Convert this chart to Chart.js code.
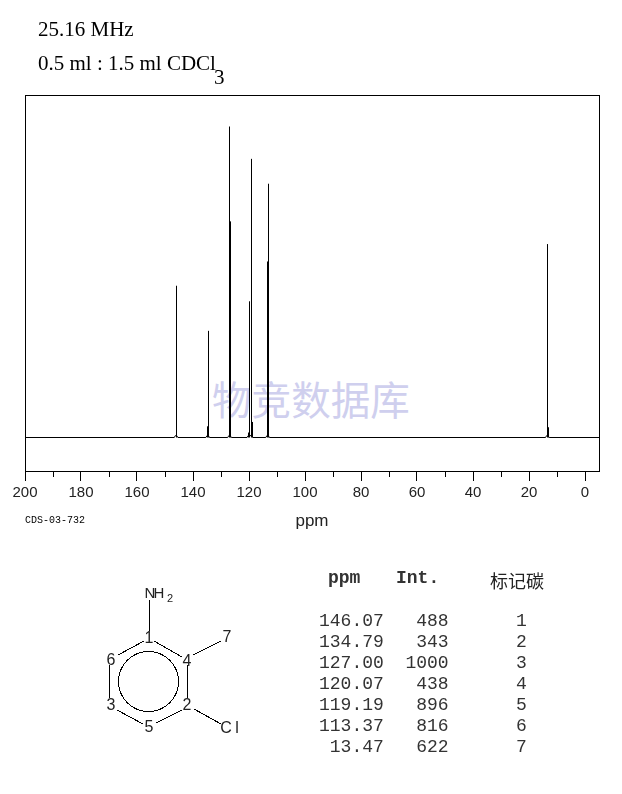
<!DOCTYPE html>
<html>
<head>
<meta charset="utf-8">
<title>13C NMR</title>
<script src="https://cdn.jsdelivr.net/npm/chart.js@4"></script>
<style>
  html, body { margin: 0; padding: 0; background: #fff; }
  #page { position: relative; width: 622px; height: 794px; overflow: hidden; }
  #page div { position: absolute; white-space: pre; line-height: 1; color: #000; }
  canvas { position: absolute; left: 0; top: 0; }
  .head { font: 21px "Liberation Serif", serif; color: #111; }
  .mono { font: 18px "Liberation Mono", monospace; }
  #page .mono { color: #333; }
  #page #mark { left: 212px; top: 378px; font-family: "Noto Sans CJK SC", sans-serif; font-size: 39.6px; color: #cfcfee; }
  svg { position: absolute; left: 0; top: 0; }
  svg text { font: 16px "Liberation Sans", sans-serif; fill: #222; text-anchor: middle; }
</style>
</head>
<body>
<div id="page">
  <div id="mark">物竞数据库</div>
  <canvas id="nmrChart" width="622" height="794"></canvas>
  <div class="head" style="left:38px;top:19px">25.16 MHz</div>
  <div class="head" style="left:38px;top:53px">0.5 ml : 1.5 ml CDCl</div>
  <div class="head" style="left:214px;top:67px">3</div>
  <div style="left:25px;top:515px;font:10px 'Liberation Mono',monospace">CDS-03-732</div>
  <div class="mono" style="left:328px;top:569px;font-weight:bold">ppm</div>
  <div class="mono" style="left:396px;top:569px;font-weight:bold">Int.</div>
  <div style="left:490px;top:567px;font:18px 'Noto Sans CJK SC',sans-serif;color:#222">标记碳</div>
  <svg width="622" height="794">
    <g stroke="#000" fill="none" shape-rendering="crispEdges">
      <line x1="149" y1="600" x2="149" y2="631"/>
      <line x1="144" y1="641" x2="118" y2="655"/>
      <line x1="154" y1="641" x2="182" y2="657"/>
      <line x1="109" y1="665" x2="109" y2="698"/>
      <line x1="187" y1="665" x2="187" y2="698"/>
      <line x1="117" y1="710" x2="143" y2="724"/>
      <line x1="182" y1="710" x2="156" y2="723"/>
      <line x1="193" y1="655" x2="221" y2="641"/>
      <line x1="194" y1="709" x2="221" y2="724"/>
      <circle cx="148.5" cy="681.5" r="30"/>
    </g>
    <text x="150" y="598" style="font-size:15px">N</text>
    <text x="159" y="598" style="font-size:15px">H</text>
    <text x="170" y="602" style="font-size:11px">2</text>
    <text x="149" y="643">1</text>
    <text x="111" y="665">6</text>
    <text x="187" y="666">4</text>
    <text x="111" y="710">3</text>
    <text x="187" y="710">2</text>
    <text x="149" y="732">5</text>
    <text x="227" y="642">7</text>
    <text x="226" y="733">C</text>
    <text x="237" y="733">l</text>
  </svg>
</div>
<script>
// peak table
const ppm = [146.07, 134.79, 127.00, 120.07, 119.19, 113.37, 13.47];
const intensity = [488, 343, 1000, 438, 896, 816, 622];
const carbon = [1, 2, 3, 4, 5, 6, 7];

// thicker lower part next to some peaks
const shoulderPpm = [135.1, 126.75, 120.4, 118.9, 113.7, 13.2];
const shoulderInt = [36, 695, 16, 50, 566, 33];

// baseline with the small foot under each peak
const basePpm = [200, 146.7, 146.3, 145.8, 145.4, 135.4, 135.0, 134.5, 134.1, 127.6, 127.2, 126.7, 126.3,
  120.7, 120.3, 119.0, 118.6, 114.0, 113.6, 113.1, 112.7, 14.1, 13.7, 13.2, 12.8, -5];
const baseInt = [0, 0, 6, 6, 0, 0, 6, 6, 0, 0, 6, 6, 0, 0, 6, 6, 0, 0, 6, 6, 0, 0, 6, 6, 0, 0];

const minorTicks = [190, 170, 150, 130, 110, 90, 70, 50, 30, 10];

// table rows
const page = document.getElementById("page");
function addCell(text, left, top) {
  const el = document.createElement("div");
  el.className = "mono";
  el.style.left = left + "px";
  el.style.top = top + "px";
  el.textContent = text;
  page.appendChild(el);
}
ppm.forEach((p, i) => {
  const top = 611.5 + i * 21;
  addCell(p.toFixed(2).padStart(6) + "  " + String(intensity[i]).padStart(4), 319, top);
  addCell(String(carbon[i]), 516, top);
});

function stick(x, y) {
  return {
    data: [{ x: x, y: 0 }, { x: x, y: y }],
    borderColor: "#000",
    borderWidth: 1,
    pointRadius: 0,
    stick: true
  };
}

const datasets = [{
  data: basePpm.map((p, i) => ({ x: p, y: baseInt[i] })),
  borderColor: "#000",
  borderWidth: 1,
  pointRadius: 0
}];
ppm.forEach((p, i) => datasets.push(stick(p, intensity[i])));
shoulderPpm.forEach((p, i) => datasets.push(stick(p, shoulderInt[i])));

// keep the sticks on whole pixels, the original is not antialiased
const snapSticks = {
  id: "snapSticks",
  afterDatasetsUpdate(chart) {
    chart.data.datasets.forEach((d, i) => {
      if (!d.stick) return;
      chart.getDatasetMeta(i).data.forEach(pt => { pt.x = Math.round(pt.x) + 0.5; });
    });
  }
};

// frame and the short ticks
const frame = {
  id: "frame",
  afterDraw(chart) {
    const { ctx, chartArea: a, scales } = chart;
    ctx.save();
    ctx.strokeStyle = "#000";
    ctx.lineWidth = 1;
    ctx.strokeRect(a.left + 0.5, a.top + 0.5, a.right - a.left, a.bottom - a.top);
    ctx.beginPath();
    minorTicks.forEach(t => {
      const x = Math.round(scales.x.getPixelForValue(t)) + 0.5;
      ctx.moveTo(x, a.bottom);
      ctx.lineTo(x, a.bottom + 6);
    });
    ctx.stroke();
    ctx.restore();
  }
};

new Chart(document.getElementById("nmrChart").getContext("2d"), {
  type: "line",
  data: { datasets: datasets },
  plugins: [snapSticks, frame],
  options: {
    responsive: false,
    animation: false,
    events: [],
    layout: { padding: { left: 25, right: 23, top: 95, bottom: 262 } },
    plugins: { legend: { display: false }, tooltip: { enabled: false } },
    scales: {
      x: {
        type: "linear",
        reverse: true,
        min: -5,
        max: 200,
        afterFit: s => { s.height = 61; },
        border: { color: "#000" },
        grid: { drawOnChartArea: false, tickLength: 10, tickColor: "#000" },
        ticks: {
          stepSize: 20,
          includeBounds: false,
          autoSkip: false,
          maxRotation: 0,
          color: "#222",
          padding: 3,
          font: { family: "Liberation Sans", size: 15 }
        },
        title: {
          display: true,
          text: "ppm",
          color: "#222",
          padding: { top: 0, bottom: 0 },
          font: { family: "Liberation Sans", size: 17 }
        }
      },
      y: { display: false, min: -107.7, max: 1101.3 }
    }
  }
});
</script>
</body>
</html>
